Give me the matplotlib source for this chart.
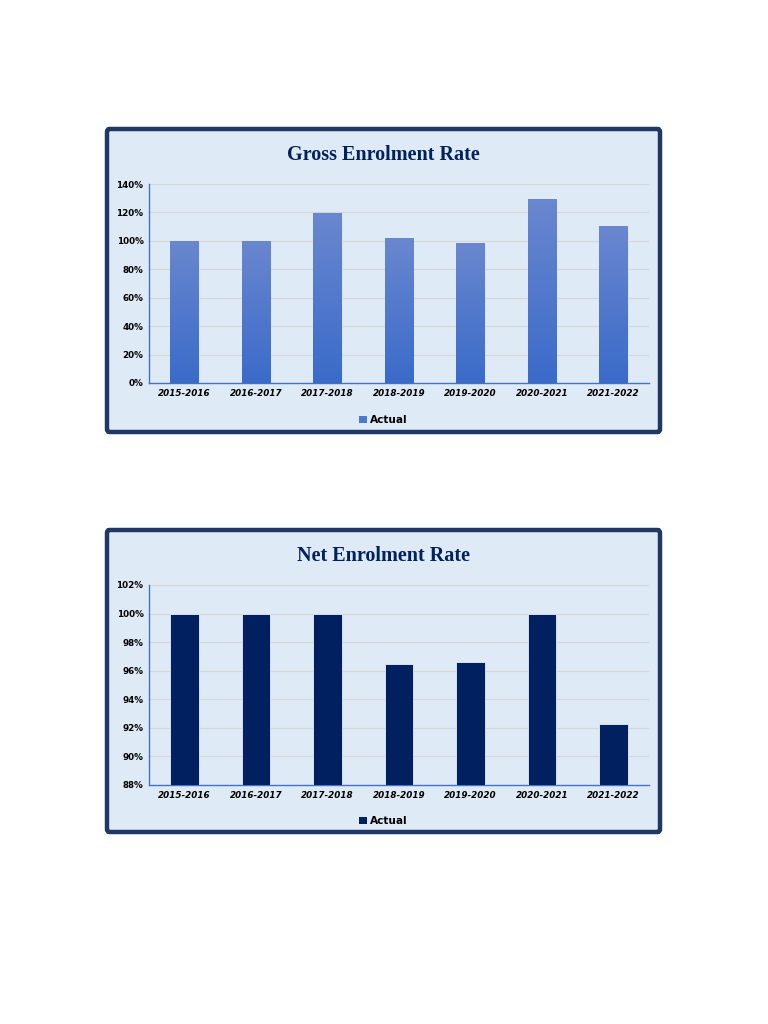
import matplotlib
matplotlib.use("Agg")
import matplotlib.pyplot as plt
import numpy as np
from matplotlib.patches import FancyBboxPatch
from matplotlib.ticker import FuncFormatter

YEARS = ["2015-2016", "2016-2017", "2017-2018", "2018-2019", "2019-2020", "2020-2021", "2021-2022"]
GROSS = [100.0, 100.0, 119.5, 101.8, 98.5, 129.5, 110.6]
NET = [100.0, 100.0, 100.0, 96.5, 96.6, 100.0, 92.3]

GROSS_TICKS = [0, 20, 40, 60, 80, 100, 120, 140]
NET_TICKS = [88, 90, 92, 94, 96, 98, 100, 102]

W, H = 768, 1024
BG = "#DEEAF6"
BORDER = "#1F3864"
TITLE_C = "#002060"


def px_rect(x0, y0, x1, y1):
    return [x0 / W, 1 - y1 / H, (x1 - x0) / W, (y1 - y0) / H]


def draw_panel(fig, box, axbox, title, title_y, values, ticks, ylim, color, gradient=None, legend_y=None):
    bx = px_rect(*box)
    frame = FancyBboxPatch((bx[0], bx[1]), bx[2], bx[3], boxstyle="round,pad=0,rounding_size=0.003",
                           transform=fig.transFigure, facecolor=BG, edgecolor=BORDER, linewidth=3.2, zorder=-5)
    fig.patches.append(frame)
    fig.text(0.5 * (box[0] + box[2]) / W, 1 - title_y / H, title, ha="center", va="center",
             fontsize=14.5, fontweight="bold", family="Liberation Serif", color=TITLE_C)

    ax = fig.add_axes(px_rect(*axbox))
    ax.set_facecolor("none")
    ax.set_zorder(2)
    x = np.arange(len(YEARS))
    bottom = ylim[0]
    bars = ax.bar(x, np.array(values) - bottom, bottom=bottom, width=0.4, color=color,
                  edgecolor="#E8EEF8", linewidth=0.6, zorder=3, label="Actual")
    if gradient is not None:
        grad = np.linspace(0, 1, 256).reshape(-1, 1)
        cmap = matplotlib.colors.LinearSegmentedColormap.from_list("g", gradient)
        for b in bars:
            bx0, by0 = b.get_x(), b.get_y()
            im = ax.imshow(grad, cmap=cmap, aspect="auto", origin="lower",
                           extent=[bx0, bx0 + b.get_width(), by0, by0 + b.get_height()], zorder=3.5)
            im.set_clip_path(b)
    ax.set_xlim(-0.5, len(YEARS) - 0.5)
    ax.set_ylim(*ylim)
    ax.set_yticks(ticks)
    ax.yaxis.set_major_formatter(FuncFormatter(lambda v, p: f"{v:.0f}%"))
    ax.set_xticks(x)
    ax.set_xticklabels(YEARS, fontsize=6.3, fontweight="bold", fontstyle="italic")
    for lab in ax.get_yticklabels():
        lab.set_fontsize(6.3)
        lab.set_fontweight("bold")
    ax.tick_params(length=0, pad=4)
    ax.grid(axis="y", color="#D6D6D6", linewidth=0.8, zorder=0)
    for s in ["top", "right"]:
        ax.spines[s].set_visible(False)
    for s in ["left", "bottom"]:
        ax.spines[s].set_color("#4472C4")
        ax.spines[s].set_linewidth(1.0)
    handle = plt.Rectangle((0, 0), 1, 1, facecolor=color)
    fig.legend([handle], ["Actual"], loc="center", bbox_to_anchor=(0.5 * (box[0] + box[2]) / W, 1 - legend_y / H),
               frameon=False, handlelength=0.7, handleheight=0.7, handletextpad=0.3,
               prop={"size": 7.6, "weight": "bold"})
    return ax


fig = plt.figure(figsize=(7.68, 10.24), dpi=100)
fig.patch.set_facecolor("white")

draw_panel(fig, (107, 129, 660, 432), (149, 184, 649, 383), "Gross Enrolment Rate", 155,
           GROSS, GROSS_TICKS, (0, 140), "#4F79CB", gradient=["#3A6BC9", "#6A87CF"], legend_y=420)
draw_panel(fig, (107, 530, 660, 832), (149, 585, 649, 785), "Net Enrolment Rate", 556,
           NET, NET_TICKS, (88, 102), "#002060", legend_y=821)

fig.savefig("out.png", dpi=100)
